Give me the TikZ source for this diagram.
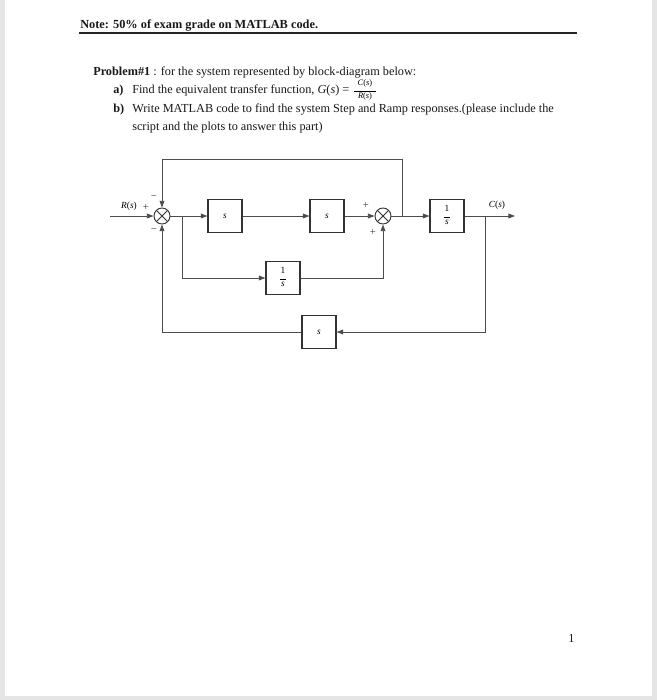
\documentclass[tikz,border=0pt]{standalone}
\usepackage{fontspec}
\setmainfont{Liberation Serif}
\usetikzlibrary{arrows.meta}
\newcommand{\txtsz}{\fontsize{9.2}{10}\selectfont}
\newcommand{\lblsz}{\fontsize{7}{8}\selectfont}
\newcommand{\frcs}{\lblsz\begin{tabular}{@{}c@{}}1\\[-3.5pt]\rule{5pt}{0.4pt}\\[-3pt]\textit{s}\end{tabular}}
\begin{document}
\begin{tikzpicture}[x=0.75pt,y=-0.75pt,
  txt/.style={anchor=base west,inner sep=0pt,font=\txtsz,text=black!90},
  blk/.style={draw=black!80,line width=0.8pt,minimum width=25.5pt,minimum height=24.5pt,inner sep=0pt,font=\lblsz,fill=white},
  sumc/.style={circle,draw=black!80,line width=0.7pt,minimum size=12pt,inner sep=0pt,
    path picture={\draw[black!80,line width=0.6pt] (path picture bounding box.north west) -- (path picture bounding box.south east)
      (path picture bounding box.north east) -- (path picture bounding box.south west);}},
  conn/.style={draw=black!70,line width=0.65pt},
  arr/.style={-{Triangle[length=5pt,width=3.6pt]}},
  sgn/.style={inner sep=0pt,font=\fontsize{8}{9}\selectfont,text=black!80},
  lab/.style={inner sep=0pt,font=\fontsize{7}{8}\selectfont}]
\useasboundingbox (0,0) rectangle (657,700);
\fill[black!10] (0,0) rectangle (657,700);
\fill[white] (5,0) rectangle (652,696);
% header
\node[txt] (note) at (80,28) {\bfseries\fontsize{9.25}{11}\selectfont Note: 50\% of exam grade on MATLAB code.};
\coordinate (ul1) at (79,33);
\coordinate (ul2) at (577,33);
\draw[black!85,line width=0.8pt] (ul1) -- (ul2);
\node[txt] (prob) at (93,75) {\textbf{Problem\#1} : for the system represented by block-diagram below:};
\node[txt] (qa) at (113,93) {\textbf{a)}};
\node[txt] (qat) at (132,93) {Find the equivalent transfer function, \textit{G}(\textit{s}) =};
\node[inner sep=0pt,font=\fontsize{6.3}{7}\selectfont] (frac) at (365,90) {\begin{tabular}{@{}c@{}}\textit{C}(\textit{s})\\[-2.5pt]\rule{16pt}{0.4pt}\\[-2pt]\textit{R}(\textit{s})\end{tabular}};
\node[txt] (qb) at (113,112) {\textbf{b)}};
\node[txt] (qbt) at (132,112) {Write MATLAB code to find the system Step and Ramp responses.(please include the};
\node[txt] (qbt2) at (132,130) {script and the plots to answer this part)};
\node[txt] (pg) at (568,642) {1};
% diagram
\node[sumc] (s1) at (162,216) {};
\node[sumc] (s2) at (383,216) {};
\node[blk] (b1) at (225,216) {\textit{s}};
\node[blk] (b2) at (327,216) {\textit{s}};
\node[blk] (b3) at (447,216) {\frcs};
\node[blk] (b4) at (283,278) {\frcs};
\node[blk] (b5) at (319,332) {\textit{s}};
\coordinate (in) at (110,216);
\coordinate (out) at (515,216);
\coordinate (p1) at (182,216);
\coordinate (p2) at (402,216);
\coordinate (p3) at (485,216);
\draw[conn,arr] (in) -- (s1);
\draw[conn,arr] (s1) -- (b1);
\draw[conn,arr] (p1) |- (b4);
\draw[conn,arr] (b1) -- (b2);
\draw[conn,arr] (b2) -- (s2);
\draw[conn,arr] (b4) -| (s2);
\draw[conn,arr] (s2) -- (b3);
\draw[conn,arr] (p2) -- ++(0,-57) -| (s1);
\draw[conn,arr] (b3) -- (out);
\draw[conn,arr] (p3) |- (b5);
\draw[conn,arr] (b5) -| (s1);
% labels
\node[lab] (rl) at (129,206) {\textit{R}(\textit{s})};
\node[lab] (cl) at (497,205) {\textit{C}(\textit{s})};
\node[sgn] (m1) at (146,207) {+};
\node[sgn] (m2) at (154,198) {\textminus};
\node[sgn] (m3) at (154,231) {\textminus};
\node[sgn] (m4) at (366,205) {+};
\node[sgn] (m5) at (373,232) {+};
\end{tikzpicture}
\end{document}
